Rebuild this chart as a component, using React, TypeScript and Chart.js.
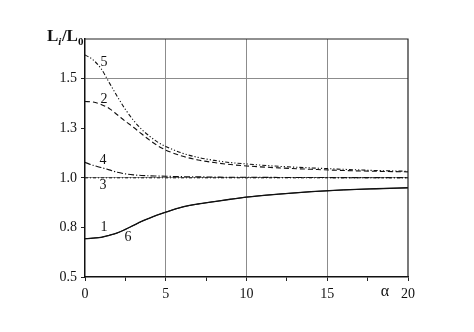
import React, { useEffect, useRef } from "react";
import { Chart, registerables } from "chart.js";

Chart.register(...registerables);

// ---- data ----
const alpha = [0, 0.5, 1, 1.5, 2, 2.5, 3, 3.5, 4, 4.5, 5, 6, 7, 8, 9, 10, 12, 14, 16, 18, 20];
const curve1 = [0.693, 0.696, 0.7, 0.71, 0.722, 0.74, 0.76, 0.78, 0.797, 0.813, 0.827, 0.852, 0.868, 0.88, 0.892, 0.903, 0.918, 0.93, 0.939, 0.945, 0.95];
const curve6 = [0.693, 0.696, 0.7, 0.71, 0.722, 0.74, 0.76, 0.78, 0.797, 0.813, 0.827, 0.852, 0.868, 0.88, 0.892, 0.903, 0.918, 0.93, 0.939, 0.945, 0.95];
const curve2 = [1.385, 1.382, 1.37, 1.35, 1.318, 1.285, 1.255, 1.222, 1.19, 1.162, 1.14, 1.11, 1.09, 1.077, 1.067, 1.06, 1.05, 1.043, 1.037, 1.033, 1.03];
const curve3 = [1.0, 1.0, 1.0, 1.0, 1.0, 1.0, 1.0, 1.0, 1.0, 1.0, 1.0, 1.0, 1.0, 1.0, 1.0, 1.0, 1.0, 1.0, 1.0, 1.0, 1.0];
const curve4 = [1.078, 1.063, 1.052, 1.04, 1.028, 1.02, 1.015, 1.012, 1.01, 1.009, 1.008, 1.006, 1.005, 1.004, 1.003, 1.003, 1.002, 1.002, 1.001, 1.001, 1.001];
const curve5 = [1.62, 1.595, 1.55, 1.48, 1.41, 1.345, 1.29, 1.245, 1.21, 1.18, 1.158, 1.125, 1.103, 1.088, 1.077, 1.07, 1.058, 1.05, 1.043, 1.037, 1.033];

const yTicks = [0.5, 0.75, 1.0, 1.25, 1.5];
const yTickLabels = ["0.5", "0.8", "1.0", "1.3", "1.5"];
const yGridValues = [1.0, 1.5];
const xTicks = [0, 2.5, 5, 7.5, 10, 12.5, 15, 17.5, 20];
const xTickLabels = ["0", "", "5", "", "10", "", "15", "", "20"];
const xGridValues = [5, 10, 15];

const curveNames = ["5", "2", "4", "3", "1", "6"];
const curveLabelAlpha = [1.18, 1.18, 1.11, 1.11, 1.18, 2.66];
const curveLabelValue = [1.58, 1.394, 1.087, 0.961, 0.75, 0.70];

const SERIF = "'Liberation Serif', 'DejaVu Serif', serif";

const pts = (ys: number[]) => alpha.map((a, i) => ({ x: a, y: ys[i] }));

export default function App() {
  const ref = useRef<HTMLCanvasElement | null>(null);

  useEffect(() => {
    if (!ref.current) return;
    const textPlugin = {
      id: "texts",
      afterDraw(chart: any) {
        const { ctx, chartArea, scales } = chart;
        const xs = scales.x;
        const ys = scales.y;
        ctx.save();
        // frame top & right
        ctx.strokeStyle = "#222";
        ctx.lineWidth = 1.2;
        ctx.beginPath();
        ctx.moveTo(chartArea.left, chartArea.top);
        ctx.lineTo(chartArea.right, chartArea.top);
        ctx.lineTo(chartArea.right, chartArea.bottom);
        ctx.stroke();

        ctx.fillStyle = "#111";
        // curve labels
        ctx.font = `14px ${SERIF}`;
        ctx.textAlign = "center";
        ctx.textBaseline = "middle";
        curveNames.forEach((n, i) => {
          ctx.fillText(n, xs.getPixelForValue(curveLabelAlpha[i]), ys.getPixelForValue(curveLabelValue[i]));
        });
        // alpha label
        ctx.font = `16px ${SERIF}`;
        ctx.fillText("α", 385, 292);

        // y title L_i/L_0
        ctx.textAlign = "left";
        ctx.textBaseline = "alphabetic";
        let x = 47;
        const base = 41;
        ctx.font = `bold 17px ${SERIF}`;
        ctx.fillText("L", x, base);
        x += ctx.measureText("L").width;
        ctx.font = `bold italic 11px ${SERIF}`;
        ctx.fillText("i", x, base + 4);
        x += ctx.measureText("i").width + 0.5;
        ctx.font = `bold 17px ${SERIF}`;
        ctx.fillText("/", x, base);
        x += ctx.measureText("/").width;
        ctx.fillText("L", x, base);
        x += ctx.measureText("L").width;
        ctx.font = `bold 11px ${SERIF}`;
        ctx.fillText("0", x, base + 4);
        ctx.restore();
      },
    };

    const lineDs = (label: string, ys: number[], dash: number[], width: number) => ({
      label,
      data: pts(ys),
      borderColor: "#111",
      borderWidth: width,
      borderDash: dash,
      pointRadius: 0,
      fill: false,
      tension: 0.4,
      cubicInterpolationMode: "monotone" as const,
    });

    const chart = new Chart(ref.current, {
      type: "line",
      data: {
        datasets: [
          lineDs("5", curve5, [4, 2, 1.2, 2, 1.2, 2], 1.1),
          lineDs("2", curve2, [5, 3], 1.1),
          lineDs("4", curve4, [6, 2, 1.2, 2], 1.1),
          lineDs("3", curve3, [3, 2, 1, 2], 1.0),
          lineDs("1", curve1, [], 1.3),
          lineDs("6", curve6, [], 1.0),
        ],
      },
      plugins: [textPlugin],
      options: {
        animation: false,
        responsive: false,
        events: [],
        layout: { padding: { left: 0, right: 66, top: 39, bottom: 0 } },
        plugins: { legend: { display: false }, tooltip: { enabled: false }, title: { display: false } },
        scales: {
          x: {
            type: "linear",
            min: 0,
            max: 20,
            afterBuildTicks: (s: any) => {
              s.ticks = xTicks.map((v) => ({ value: v }));
            },
            afterFit: (s: any) => {
              s.height = 55;
            },
            ticks: {
              autoSkip: false,
              maxRotation: 0,
              padding: 5,
              color: "#111",
              font: { family: SERIF, size: 14 },
              callback: (_v: any, i: number) => xTickLabels[i],
            },
            grid: {
              color: (c: any) => (c.tick && xGridValues.includes(c.tick.value) ? "#8c8c8c" : "rgba(0,0,0,0)"),
              tickColor: "#222",
              tickLength: 4,
              lineWidth: 1,
            },
            border: { display: true, color: "#111", width: 1.5 },
          },
          y: {
            type: "linear",
            min: 0.5,
            max: 1.7,
            afterBuildTicks: (s: any) => {
              s.ticks = yTicks.map((v) => ({ value: v }));
            },
            afterFit: (s: any) => {
              s.width = 85;
            },
            ticks: {
              autoSkip: false,
              padding: 4,
              color: "#111",
              font: { family: SERIF, size: 14 },
              callback: (_v: any, i: number) => yTickLabels[i],
            },
            grid: {
              color: (c: any) => (c.tick && yGridValues.includes(c.tick.value) ? "#8c8c8c" : "rgba(0,0,0,0)"),
              tickColor: "#222",
              tickLength: 4,
              lineWidth: 1,
            },
            border: { display: true, color: "#111", width: 1.5 },
          },
        },
      },
    });
    return () => chart.destroy();
  }, []);

  return (
    <div style={{ position: "absolute", left: 0, top: 0, width: 474, height: 332, background: "#fff" }}>
      <canvas ref={ref} width={474} height={332} style={{ display: "block", width: 474, height: 332 }} />
    </div>
  );
}
